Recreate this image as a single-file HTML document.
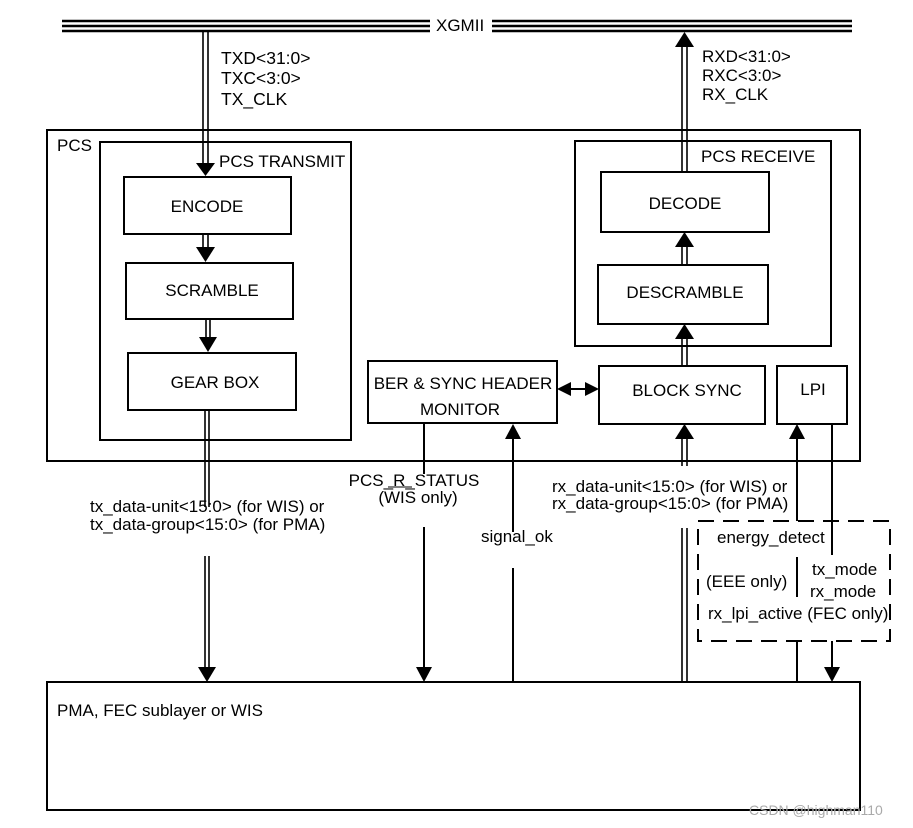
<!DOCTYPE html>
<html><head><meta charset="utf-8"><style>
html,body{margin:0;padding:0;background:#fff}
svg{display:block}
text{font-family:"Liberation Sans",Arial,sans-serif;fill:#000}
</style></head><body>
<svg width="913" height="828" viewBox="0 0 913 828" xmlns="http://www.w3.org/2000/svg">
<g stroke="#000" fill="none" stroke-width="2">
<line x1="62" y1="21" x2="430" y2="21" stroke-width="2.5"/>
<line x1="62" y1="26" x2="430" y2="26" stroke-width="2.5"/>
<line x1="62" y1="31" x2="430" y2="31" stroke-width="2.5"/>
<line x1="492" y1="21" x2="852" y2="21" stroke-width="2.5"/>
<line x1="492" y1="26" x2="852" y2="26" stroke-width="2.5"/>
<line x1="492" y1="31" x2="852" y2="31" stroke-width="2.5"/>
<rect x="47" y="130" width="813" height="331"/>
<rect x="100" y="142" width="251" height="298"/>
<rect x="124" y="177" width="167" height="57"/>
<rect x="126" y="263" width="167" height="56"/>
<rect x="128" y="353" width="168" height="57"/>
<rect x="575" y="141" width="256" height="205"/>
<rect x="601" y="172" width="168" height="60"/>
<rect x="598" y="265" width="170" height="59"/>
<rect x="368" y="361" width="189" height="62"/>
<rect x="599" y="366" width="166" height="58"/>
<rect x="777" y="366" width="70" height="58"/>
<rect x="47" y="682" width="813" height="128"/>
<rect x="698" y="521" width="192" height="120" stroke-dasharray="16,9"/>
<g stroke-width="1.6">
<line x1="203" y1="32" x2="203" y2="165"/><line x1="208" y1="32" x2="208" y2="165"/>
<line x1="203" y1="234" x2="203" y2="248"/><line x1="208" y1="234" x2="208" y2="248"/>
<line x1="206" y1="319" x2="206" y2="338"/><line x1="210" y1="319" x2="210" y2="338"/>
<line x1="205" y1="410" x2="205" y2="507"/><line x1="209" y1="410" x2="209" y2="507"/>
<line x1="205" y1="556" x2="205" y2="668"/><line x1="209" y1="556" x2="209" y2="668"/>
<line x1="682" y1="46" x2="682" y2="172"/><line x1="687" y1="46" x2="687" y2="172"/>
<line x1="682" y1="246" x2="682" y2="265"/><line x1="687" y1="246" x2="687" y2="265"/>
<line x1="682" y1="338" x2="682" y2="366"/><line x1="687" y1="338" x2="687" y2="366"/>
<line x1="682" y1="438" x2="682" y2="466"/><line x1="687" y1="438" x2="687" y2="466"/>
<line x1="682" y1="528" x2="682" y2="682"/><line x1="687" y1="528" x2="687" y2="682"/>
</g>
<line x1="424" y1="423" x2="424" y2="474"/>
<line x1="424" y1="527" x2="424" y2="668"/>
<line x1="513" y1="438" x2="513" y2="532"/>
<line x1="513" y1="568" x2="513" y2="682"/>
<line x1="570" y1="389" x2="586" y2="389"/>
<line x1="797" y1="438" x2="797" y2="521"/>
<line x1="797" y1="557" x2="797" y2="597"/>
<line x1="797" y1="641" x2="797" y2="682"/>
<line x1="832" y1="424" x2="832" y2="555"/>
<line x1="832" y1="641" x2="832" y2="668"/>
</g>
<g fill="#000">
<polygon points="196,163 215,163 205.5,176"/>
<polygon points="196,247 215,247 205.5,262"/>
<polygon points="199,337 217,337 208,352"/>
<polygon points="198,667 216,667 207,682"/>
<polygon points="416,667 432,667 424,682"/>
<polygon points="505,439 521,439 513,424"/>
<polygon points="675,47 694,47 684.5,32"/>
<polygon points="675,247 694,247 684.5,232"/>
<polygon points="675,339 694,339 684.5,324"/>
<polygon points="675,439 694,439 684.5,424"/>
<polygon points="557,389 571,382 571,396"/>
<polygon points="599,389 585,382 585,396"/>
<polygon points="789,439 805,439 797,424"/>
<polygon points="824,667 840,667 832,682"/>
</g>
<g font-size="17">
<text x="436" y="31">XGMII</text>
<text x="221" y="64" font-size="17.5">TXD&lt;31:0&gt;</text>
<text x="221" y="84" font-size="17.5">TXC&lt;3:0&gt;</text>
<text x="221" y="105" font-size="17.5">TX_CLK</text>
<text x="702" y="62">RXD&lt;31:0&gt;</text>
<text x="702" y="81">RXC&lt;3:0&gt;</text>
<text x="702" y="100">RX_CLK</text>
<text x="57" y="151">PCS</text>
<text x="219" y="167">PCS TRANSMIT</text>
<text x="701" y="162">PCS RECEIVE</text>
<text x="207" y="212" text-anchor="middle">ENCODE</text>
<text x="212" y="296" text-anchor="middle">SCRAMBLE</text>
<text x="215" y="388" text-anchor="middle">GEAR BOX</text>
<text x="685" y="209" text-anchor="middle">DECODE</text>
<text x="685" y="298" text-anchor="middle">DESCRAMBLE</text>
<text x="463" y="389" text-anchor="middle">BER &amp; SYNC HEADER</text>
<text x="460" y="415" text-anchor="middle">MONITOR</text>
<text x="687" y="396" text-anchor="middle">BLOCK SYNC</text>
<text x="813" y="395" text-anchor="middle">LPI</text>
<text x="414" y="486" text-anchor="middle">PCS_R_STATUS</text>
<text x="418" y="503" text-anchor="middle">(WIS only)</text>
<line x1="388" y1="487" x2="412" y2="487" stroke="#000" stroke-width="1"/>
<text x="90" y="512">tx_data-unit&lt;15:0&gt; (for WIS) or</text>
<text x="90" y="530">tx_data-group&lt;15:0&gt; (for PMA)</text>
<text x="481" y="542">signal_ok</text>
<text x="552" y="492">rx_data-unit&lt;15:0&gt; (for WIS) or</text>
<text x="552" y="509">rx_data-group&lt;15:0&gt; (for PMA)</text>
<text x="717" y="543">energy_detect</text>
<text x="706" y="587">(EEE only)</text>
<text x="812" y="575">tx_mode</text>
<text x="810" y="597">rx_mode</text>
<text x="708" y="619">rx_lpi_active (FEC only)</text>
<text x="57" y="716">PMA, FEC sublayer or WIS</text>
<text x="749" y="815" font-size="14" style="fill:#aaa">CSDN @highman110</text>
</g>
</svg>
</body></html>
